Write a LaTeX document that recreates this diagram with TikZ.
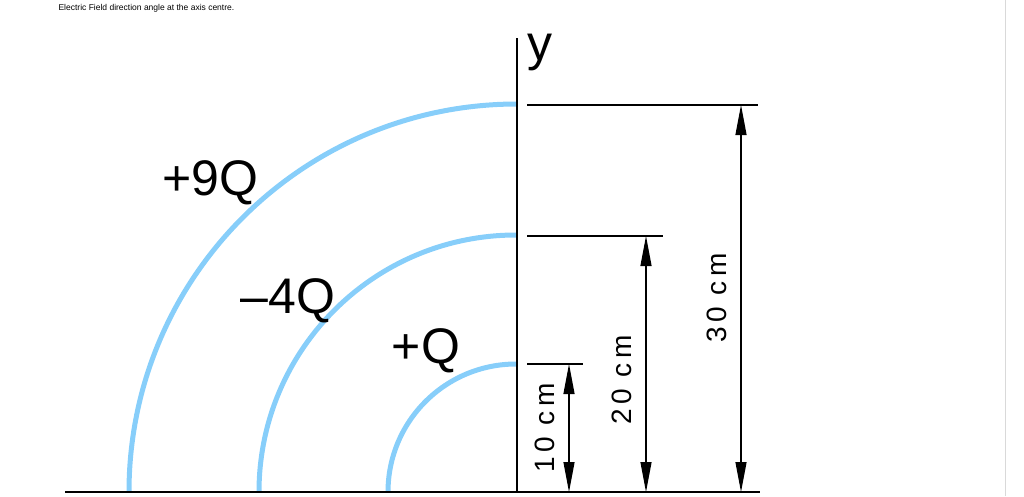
\documentclass[tikz,border=0pt]{standalone}
\usepackage{fontspec}
\setmainfont{Liberation Sans}
\usetikzlibrary{arrows.meta}
\begin{document}
\begin{tikzpicture}[x=1pt,y=-1pt,
  arc/.style={line width=5pt,color={rgb,255:red,135;green,206;blue,250}},
  ax/.style={line width=1.5pt},
  dim/.style={line width=1.2pt,{Triangle[length=30pt,width=11pt]}-{Triangle[length=30pt,width=11pt]}},
  lbl/.style={font=\fontsize{50}{52}\selectfont},
  dtxt/.style={font=\fontsize{28}{30}\selectfont\addfontfeatures{LetterSpace=15},rotate=90}]
\useasboundingbox (0,0) rectangle (1024,496);
\draw[gray!30] (1005,0) -- (1005,496);
\node[anchor=west,font=\fontsize{8.5}{9}\selectfont] (t) at (55,8) {Electric Field direction angle at the axis centre.};
\coordinate (o) at (517,492);
\draw[arc] (129,492) arc[start angle=180,end angle=270,radius=388];
\draw[arc] (259,492) arc[start angle=180,end angle=270,radius=257];
\draw[arc] (388,492) arc[start angle=180,end angle=270,radius=128];
\draw[ax] (65,492) -- (760,492);
\draw[ax] (517,492) -- (517,38);
\node[font=\fontsize{50}{50}\selectfont] (y) at (540,52) {y};
\draw[line width=1.2pt] (527,105) -- (758,105);
\draw[line width=1.2pt] (527,236) -- (663,236);
\draw[line width=1.2pt] (527,364) -- (583,364);
\coordinate (a1) at (741,105); \coordinate (a2) at (741,492);
\coordinate (b1) at (646,236); \coordinate (b2) at (646,492);
\coordinate (c1) at (569,364); \coordinate (c2) at (569,492);
\draw[dim] (a1) -- (a2);
\draw[dim] (b1) -- (b2);
\draw[dim] (c1) -- (c2);
\node[dtxt] (d30) at (717,298) {30 cm};
\node[dtxt] (d20) at (622,380) {20 cm};
\node[dtxt] (d10) at (545,428) {10 cm};
\node[lbl] (q9) at (210,183) {+9Q};
\node[lbl] (q4) at (288,301) {–4Q};
\node[lbl] (q1) at (426,351) {+Q};
\end{tikzpicture}
\end{document}
